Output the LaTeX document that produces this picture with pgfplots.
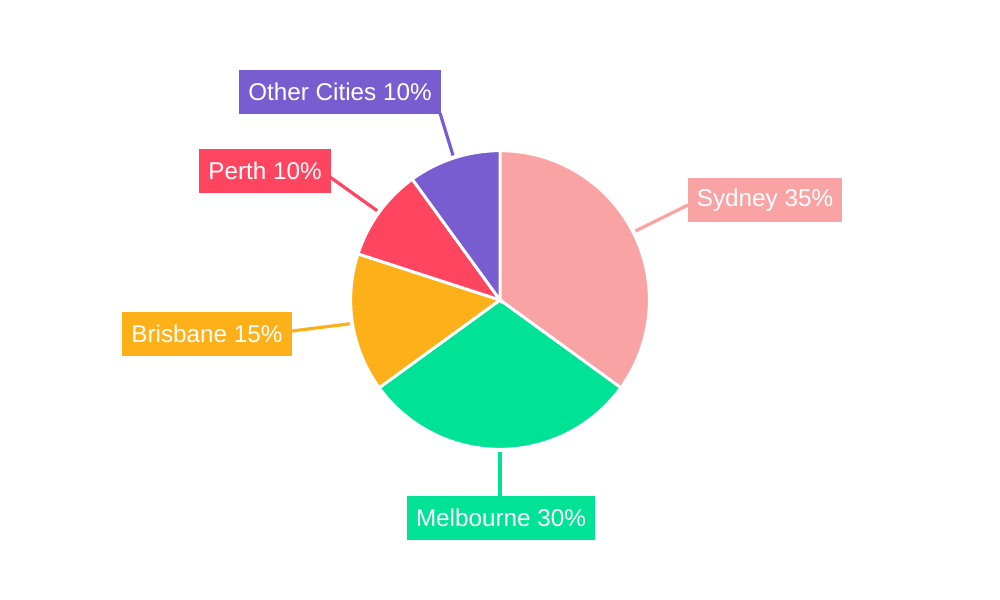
\documentclass[border=0pt]{standalone}
\usepackage{pgfplots}
\pgfplotsset{compat=1.18}
\usepackage{fontspec}
\setmainfont{Liberation Sans}
\definecolor{cSyd}{HTML}{F9A3A4}
\definecolor{cMel}{HTML}{00E396}
\definecolor{cBri}{HTML}{FEB019}
\definecolor{cPer}{HTML}{FF4560}
\definecolor{cOth}{HTML}{775DD0}
\begin{document}
\begin{tikzpicture}
\begin{axis}[
    scale only axis,
    width=750pt, height=450pt,
    xmin=0, xmax=1000, ymin=0, ymax=600,
    y dir=reverse,
    hide axis,
    clip=false,
]
% frame of the picture (1 unit = 1 px)
\path (axis cs:0,0) rectangle (axis cs:1000,600);

% share (%) / colour / label / label centre / end of leader line
\gdef\ang{90}
\foreach \v/\c/\lab/\lx/\ly/\ex/\ey in {
    35/cSyd/Sydney/765/200/688/205,
    30/cMel/Melbourne/501/518/500/496,
    15/cBri/Brisbane/207/333.5/292/331,
    10/cPer/Perth/265/170.5/330/177,
    10/cOth/Other Cities/340/92/440/113}{
  \pgfmathsetmacro{\endang}{\ang-3.6*\v}
  \pgfmathsetmacro{\midang}{(\ang+\endang)/2}
  \edef\tmp{%
    \noexpand\draw[\c, line width=2.4pt] (axis cs:500,300) ++(\midang:114pt) -- (axis cs:\ex,\ey);
    \noexpand\fill[\c, draw=white, line width=2.2pt] (axis cs:500,300) -- ++(\ang:112pt)
      arc[start angle=\ang, end angle=\endang, radius=112pt] -- cycle;
    \noexpand\node[fill=\c, text=white, inner xsep=6.8pt, minimum height=33pt,
      font=\noexpand\fontsize{18.2pt}{20pt}\noexpand\selectfont]
      at (axis cs:\lx,\ly) {\lab\space\v\noexpand\%};
  }
  \tmp
  \xdef\ang{\endang}
}
\end{axis}
\end{tikzpicture}
\end{document}
